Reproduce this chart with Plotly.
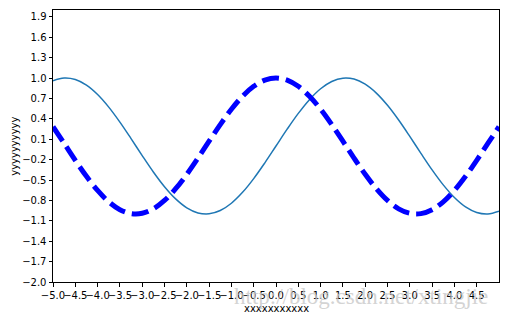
import plotly.graph_objects as go

# x samples (step 0.25)
x_vals = [-5.0, -4.75, -4.5, -4.25, -4.0, -3.75, -3.5, -3.25, -3.0, -2.75, -2.5, -2.25,
          -2.0, -1.75, -1.5, -1.25, -1.0, -0.75, -0.5, -0.25, 0.0, 0.25, 0.5, 0.75,
          1.0, 1.25, 1.5, 1.75, 2.0, 2.25, 2.5, 2.75, 3.0, 3.25, 3.5, 3.75, 4.0, 4.25,
          4.5, 4.75, 5.0]

# thin line series
thin_vals = [0.9589, 0.9993, 0.9775, 0.8950, 0.7568, 0.5716, 0.3508, 0.1082, -0.1411,
             -0.3817, -0.5985, -0.7781, -0.9093, -0.9840, -0.9975, -0.9490, -0.8415,
             -0.6816, -0.4794, -0.2474, 0.0, 0.2474, 0.4794, 0.6816, 0.8415, 0.9490,
             0.9975, 0.9840, 0.9093, 0.7781, 0.5985, 0.3817, 0.1411, -0.1082, -0.3508,
             -0.5716, -0.7568, -0.8950, -0.9775, -0.9993, -0.9589]

# thick dashed series
dashed_vals = [0.2837, 0.0376, -0.2108, -0.4461, -0.6536, -0.8206, -0.9365, -0.9941,
               -0.9900, -0.9243, -0.8011, -0.6282, -0.4161, -0.1782, 0.0707, 0.3153,
               0.5403, 0.7317, 0.8776, 0.9689, 1.0, 0.9689, 0.8776, 0.7317, 0.5403,
               0.3153, 0.0707, -0.1782, -0.4161, -0.6282, -0.8011, -0.9243, -0.9900,
               -0.9941, -0.9365, -0.8206, -0.6536, -0.4461, -0.2108, 0.0376, 0.2837]

x_tick_vals = [-5.0, -4.5, -4.0, -3.5, -3.0, -2.5, -2.0, -1.5, -1.0, -0.5, 0.0, 0.5,
               1.0, 1.5, 2.0, 2.5, 3.0, 3.5, 4.0, 4.5]
x_tick_text = ["\u22125.0", "\u22124.5", "\u22124.0", "\u22123.5", "\u22123.0", "\u22122.5",
               "\u22122.0", "\u22121.5", "\u22121.0", "\u22120.5", "0.0", "0.5", "1.0",
               "1.5", "2.0", "2.5", "3.0", "3.5", "4.0", "4.5"]
y_tick_vals = [-2.0, -1.7, -1.4, -1.1, -0.8, -0.5, -0.2, 0.1, 0.4, 0.7, 1.0, 1.3, 1.6, 1.9]
y_tick_text = ["\u22122.0", "\u22121.7", "\u22121.4", "\u22121.1", "\u22120.8", "\u22120.5",
               "\u22120.2", "0.1", "0.4", "0.7", "1.0", "1.3", "1.6", "1.9"]

x_label = "xxxxxxxxxxx"
y_label = "yyyyyyyyyy"
watermark = "http://blog.csdn.net/xtingjie"

fig = go.Figure()
fig.add_trace(go.Scatter(x=x_vals, y=thin_vals, mode="lines",
                         line=dict(color="#1f77b4", width=1.5, shape="spline"),
                         showlegend=False, hoverinfo="skip"))
fig.add_trace(go.Scatter(x=x_vals, y=dashed_vals, mode="lines",
                         line=dict(color="#0000ff", width=5, shape="spline", dash="17px,7px"),
                         showlegend=False, hoverinfo="skip"))

axis_common = dict(showgrid=False, zeroline=False, showline=True, linecolor="#000000",
                   linewidth=1, mirror=True, ticks="outside", ticklen=3.5, tickwidth=0.8,
                   tickcolor="#000000", automargin=False, tickangle=0,
                   tickfont=dict(family="DejaVu Sans", size=10, color="#000000"))

fig.update_xaxes(range=[-5, 5], tickmode="array", tickvals=x_tick_vals,
                 ticktext=x_tick_text, **axis_common)
fig.update_yaxes(range=[-2, 2], tickmode="array", tickvals=y_tick_vals,
                 ticktext=y_tick_text, **axis_common)

text_font = dict(family="DejaVu Sans", size=10, color="#000000")
fig.add_annotation(text=x_label, xref="paper", yref="paper", x=0.5, y=-0.099,
                   xanchor="center", yanchor="middle", showarrow=False, font=text_font)
fig.add_annotation(text=y_label, xref="paper", yref="paper", x=-0.088, y=0.5,
                   xanchor="center", yanchor="middle", showarrow=False, textangle=-90,
                   font=text_font)

fig.add_annotation(text=watermark, xref="paper", yref="paper", x=0.69, y=-0.055,
                   xanchor="center", yanchor="middle", showarrow=False,
                   font=dict(family="Liberation Serif", size=23, color="rgba(200,200,200,0.8)"))

# page body adds an 8px offset, so the figure is sized 501x312
fig.update_layout(width=501, height=312, autosize=False,
                  margin=dict(l=45, r=10, t=2, b=38),
                  paper_bgcolor="white", plot_bgcolor="white")

fig.write_html("out.html")
